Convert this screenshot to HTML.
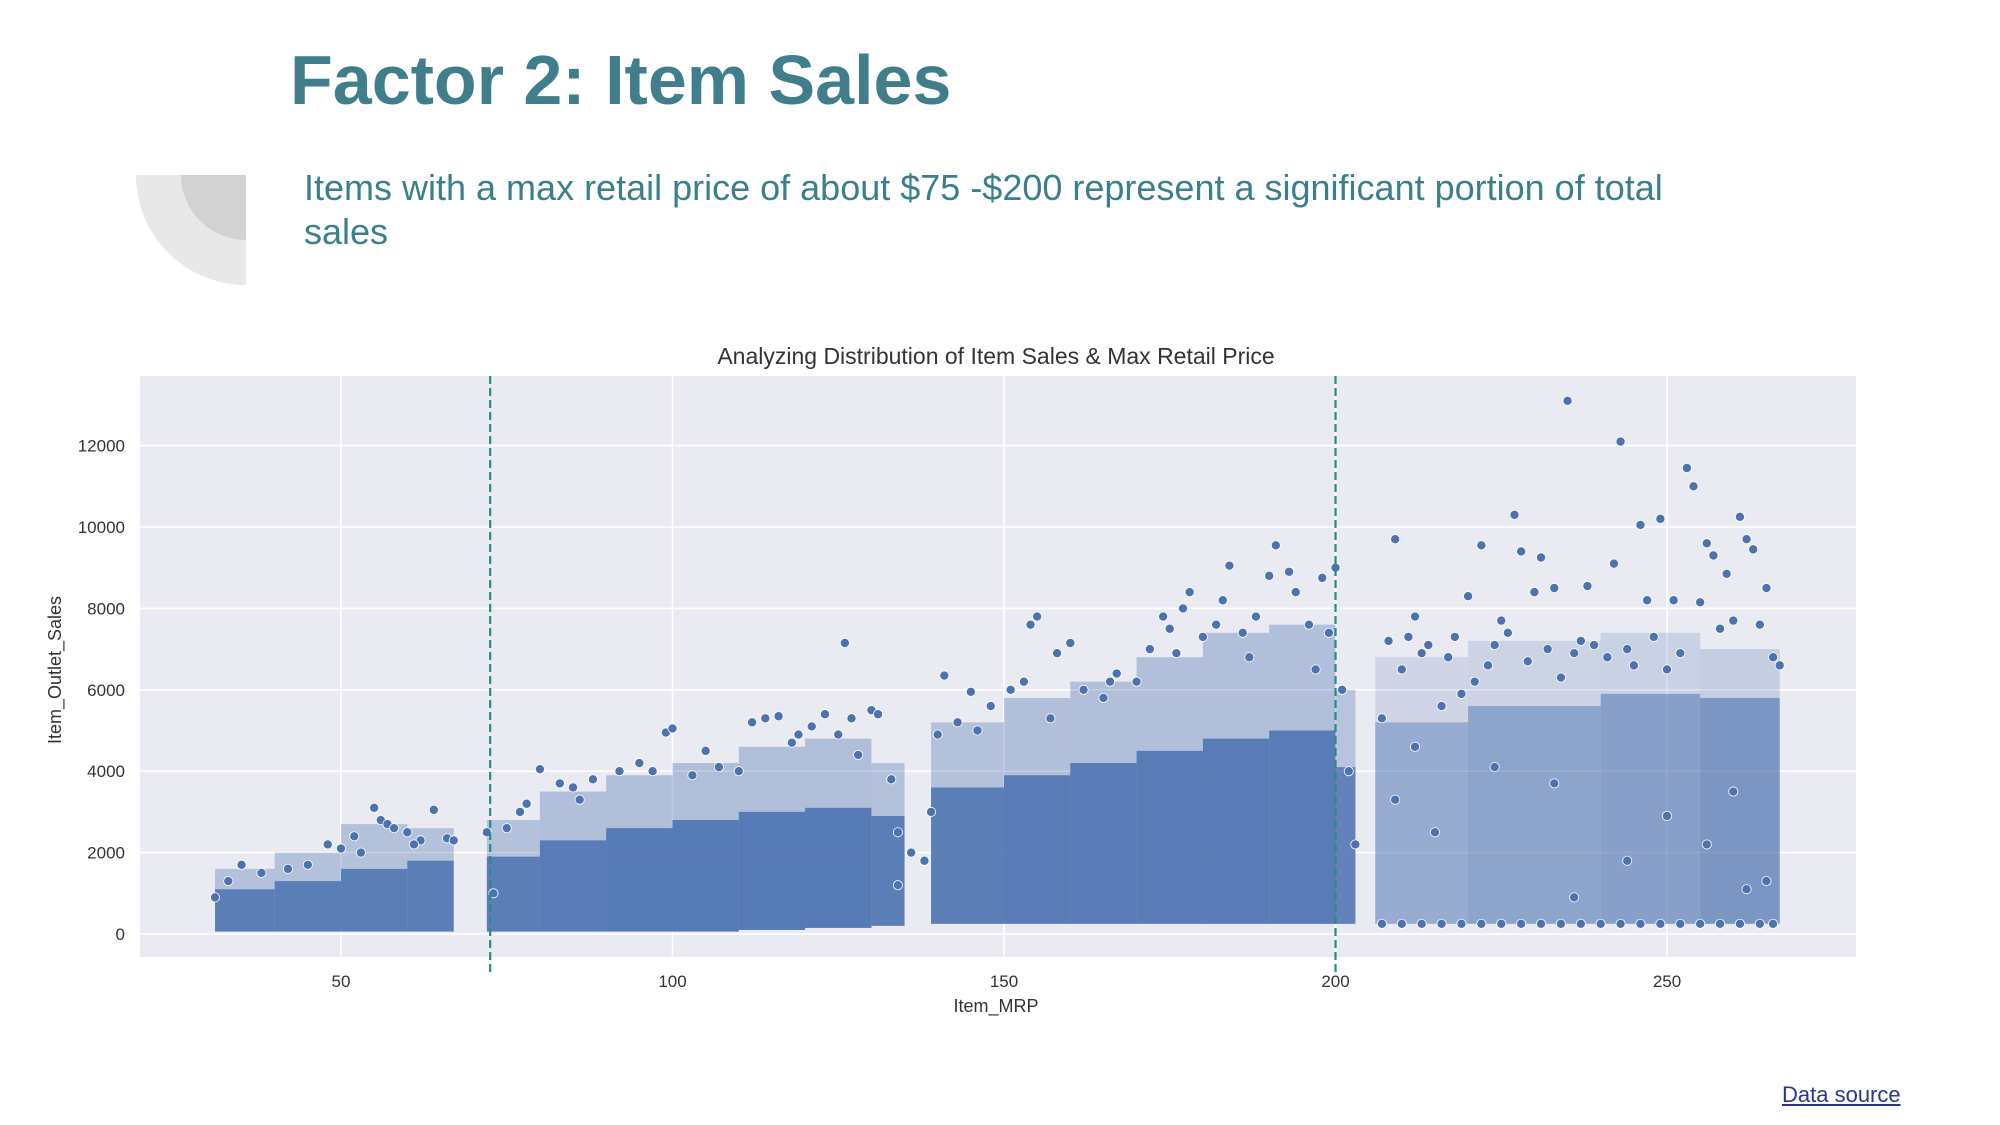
<!DOCTYPE html>
<html><head><meta charset="utf-8">
<style>
html,body{margin:0;padding:0;background:#fff;}
body{width:2000px;height:1125px;position:relative;overflow:hidden;font-family:"Liberation Sans","DejaVu Sans",sans-serif;}
#title{position:absolute;left:290px;top:40px;font-size:70px;font-weight:bold;color:#3f7e8a;letter-spacing:0px;margin:0;}
#subtitle{position:absolute;left:304px;top:166px;width:1440px;font-size:36px;line-height:44px;color:#3a7f8c;margin:0;}
#source{position:absolute;left:1782px;top:1082px;font-size:22px;color:#2a3590;text-decoration:underline;}
svg{position:absolute;left:0;top:0;}
</style></head>
<body>
<svg width="2000" height="1125">
 <path d="M246,175 L246,285 A110,110 0 0 1 136,175 Z" fill="#e8e8e8"/>
 <path d="M246,175 L246,240 A65,65 0 0 1 181,175 Z" fill="#d2d2d2"/>
</svg>
<h1 id="title">Factor 2: Item Sales</h1>
<p id="subtitle">Items with a max retail price of about $75 -$200 represent a significant portion of total sales</p>
<svg id="chart" width="2000" height="1125"></svg>
<a id="source">Data source</a>
<script>
const xTicks=[50,100,150,200,250];
const yTicks=[0,2000,4000,6000,8000,10000,12000];
const refLines=[72.5,200];
// dense-region bins
const binLo=[31,40,50,60,72,80,90,100,110,120,130,139,150,160,170,180,190,200,206,220,240,255];
const binHi=[40,50,60,67,80,90,100,110,120,130,135,150,160,170,180,190,200,203,220,240,255,267];
const binTop=[1100,1300,1600,1800,1900,2300,2600,2800,3000,3100,2900,3600,3900,4200,4500,4800,5000,4100,5200,5600,5900,5800];
const binSparseTop=[1600,2000,2700,2600,2800,3500,3900,4200,4600,4800,4200,5200,5800,6200,6800,7400,7600,6000,6800,7200,7400,7000];
const binBottom=[60,60,60,60,60,60,60,60,100,150,200,250,250,250,250,250,250,250,250,250,250,250];
const binDensity=[0.85,0.85,0.85,0.85,0.85,0.88,0.9,0.9,0.9,0.9,0.85,0.85,0.88,0.88,0.88,0.88,0.88,0.8,0.42,0.48,0.52,0.6];
const mrp=[55,56,57,64,48,50,45,35,60,62,66,58,52,53,38,42,33,31,67,61,
80,83,85,88,92,95,97,99,100,103,107,110,112,114,116,118,121,123,125,126,127,130,131,128,75,77,78,86,105,119,133,134,134,136,72,73,
140,141,143,145,148,151,153,154,155,158,160,162,165,167,170,172,174,175,177,178,180,182,183,184,186,188,190,191,193,194,196,198,199,200,201,202,203,197,187,176,166,157,146,139,138,
209,222,227,228,231,235,238,242,243,246,249,253,254,256,257,259,261,262,263,265,220,212,225,230,233,247,251,255,
207,208,210,211,213,214,216,217,218,219,221,223,224,226,229,232,234,236,237,239,241,244,245,248,250,252,258,260,264,266,267,
207,210,213,216,219,222,225,228,231,234,237,240,243,246,249,252,255,258,261,264,266,
209,215,224,233,244,250,260,265,212,236,256,262];
const sales=[3100,2800,2700,3050,2200,2100,1700,1700,2500,2300,2350,2600,2400,2000,1500,1600,1300,900,2300,2200,
4050,3700,3600,3800,4000,4200,4000,4950,5050,3900,4100,4000,5200,5300,5350,4700,5100,5400,4900,7150,5300,5500,5400,4400,2600,3000,3200,3300,4500,4900,3800,2500,1200,2000,2500,1000,
4900,6350,5200,5950,5600,6000,6200,7600,7800,6900,7150,6000,5800,6400,6200,7000,7800,7500,8000,8400,7300,7600,8200,9050,7400,7800,8800,9550,8900,8400,7600,8750,7400,9000,6000,4000,2200,6500,6800,6900,6200,5300,5000,3000,1800,
9700,9550,10300,9400,9250,13100,8550,9100,12100,10050,10200,11450,11000,9600,9300,8850,10250,9700,9450,8500,8300,7800,7700,8400,8500,8200,8200,8150,
5300,7200,6500,7300,6900,7100,5600,6800,7300,5900,6200,6600,7100,7400,6700,7000,6300,6900,7200,7100,6800,7000,6600,7300,6500,6900,7500,7700,7600,6800,6600,
250,250,250,250,250,250,250,250,250,250,250,250,250,250,250,250,250,250,250,250,250,
3300,2500,4100,3700,1800,2900,3500,1300,4600,900,2200,1100];
const X0=341, XPU=6.63, Y0=934, YPU=81.4/2000;
function sx(v){return X0+(v-50)*XPU;}
function sy(v){return Y0-v*YPU;}
const ns="http://www.w3.org/2000/svg";
const svg=document.getElementById('chart');
function mk(tag,attrs,parent){const e=document.createElementNS(ns,tag);for(const k in attrs)e.setAttribute(k,attrs[k]);(parent||svg).appendChild(e);return e;}
const PL=140,PR=1856,PT=376,PB=957;
const bg=mk('rect',{x:PL,y:PT,width:PR-PL,height:PB-PT,fill:'#eaeaf2'});


yTicks.forEach(t=>{
 const l=mk('line',{x1:PL,x2:PR,y1:sy(t),y2:sy(t),stroke:'#fff','stroke-width':1.6});
 
 
 const tx=mk('text',{x:125,y:sy(t)+6,'text-anchor':'end','font-size':17,fill:'#333'});
 tx.textContent=t;
 
 
});
xTicks.forEach(t=>{
 const l=mk('line',{x1:sx(t),x2:sx(t),y1:PT,y2:PB,stroke:'#fff','stroke-width':1.6});
 
 
 const tx=mk('text',{x:sx(t),y:987,'text-anchor':'middle','font-size':17,fill:'#333'});
 tx.textContent=t;
 
 
});
binLo.forEach((lo,i)=>{
 const r=mk('rect',{x:sx(lo),y:sy(binSparseTop[i]),width:sx(binHi[i])-sx(lo),height:sy(binBottom[i])-sy(binSparseTop[i]),fill:'#4c72b0',opacity:binDensity[i]*0.4});
 
 
});
binLo.forEach((lo,i)=>{
 const r=mk('rect',{x:sx(lo),y:sy(binTop[i]),width:sx(binHi[i])-sx(lo),height:sy(binBottom[i])-sy(binTop[i]),fill:'#4c72b0',opacity:binDensity[i]});
 
 
});
mrp.forEach((m,i)=>{
 const c=mk('circle',{cx:sx(m),cy:sy(sales[i]),r:4.6,fill:'#4c72b0',stroke:'#fff','stroke-width':0.8});
 
 
});
refLines.forEach(v=>{
 const l=mk('line',{x1:sx(v),x2:sx(v),y1:PT,y2:PB+15,stroke:'#2a8a86','stroke-width':2.2,'stroke-dasharray':'8,4'});
 
 
});
const ct=mk('text',{x:996,y:364,'text-anchor':'middle','font-size':23,fill:'#333'});
ct.textContent='Analyzing Distribution of Item Sales & Max Retail Price';


const xl=mk('text',{x:996,y:1012,'text-anchor':'middle','font-size':18,fill:'#333'});
xl.textContent='Item_MRP';


const yl=mk('text',{x:0,y:0,'text-anchor':'middle','font-size':18,fill:'#333',transform:'translate(61,670) rotate(-90)'});
yl.textContent='Item_Outlet_Sales';


</script>
</body></html>
